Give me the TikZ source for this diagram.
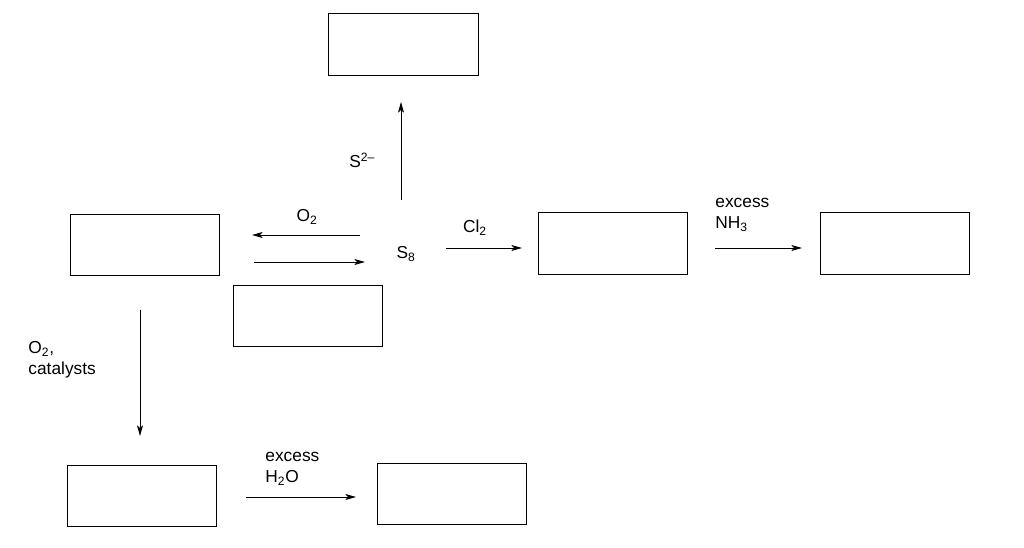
\documentclass[tikz,border=0pt]{standalone}
\usepackage{fontspec}
\setmainfont{Liberation Sans}
\usetikzlibrary{arrows.meta,positioning}
\begin{document}
\begin{tikzpicture}[x=0.75pt,y=-0.75pt,>={Stealth[length=8pt,width=4.5pt,inset=2pt]},semithick,
		font=\fontsize{13}{15.5}\selectfont]
		\tikzstyle{box}=[draw,thick,minimum width=112pt,minimum height=46pt,inner sep=0pt]
		\tikzstyle{lbl}=[anchor=west,inner sep=0pt,align=left]
		\useasboundingbox (0,0) rectangle (1024,548);
		
		\node[box] (top) at (403.5,44.5) {};
		\node[box] (left) at (145,245) {};
		\node[box] (mid) at (308,316) {};
		\node[box] (cl) at (613,243.5) {};
		\node[box] (nh) at (895,243.5) {};
		\node[box] (ox) at (142,496) {};
		\node[box] (ac) at (452,494) {};
		
		\node (s8) at (406,254) {S\textsubscript{8}};
		\node[lbl] (s2) at (349,160) {S\textsuperscript{2–}};
		\node (o2) at (307,217) {O\textsubscript{2}};
		\node (cl2) at (475,228) {Cl\textsubscript{2}};
		\node[lbl] (amm) at (715,215) {excess\\NH\textsubscript{3}};
		\node[lbl] (cat) at (28,360) {O\textsubscript{2},\\catalysts};
		\node[lbl] (wat) at (265,469) {excess\\H\textsubscript{2}O};
		
		\coordinate (a1) at (401,200); \coordinate (a2) at (401,102);
		\coordinate (b1) at (360,235); \coordinate (b2) at (252,235);
		\coordinate (c1) at (254,262); \coordinate (c2) at (365,262);
		\coordinate (d1) at (446,248); \coordinate (d2) at (522,248);
		\coordinate (e1) at (715,248); \coordinate (e2) at (802,248);
		\coordinate (f1) at (140,310); \coordinate (f2) at (140,436);
		\coordinate (g1) at (246,497); \coordinate (g2) at (356,497);
		
		\foreach \s/\t in {a1/a2,b1/b2,c1/c2,d1/d2,e1/e2,f1/f2,g1/g2}
		\draw[->] (\s) -- (\t);
\end{tikzpicture}
\end{document}
